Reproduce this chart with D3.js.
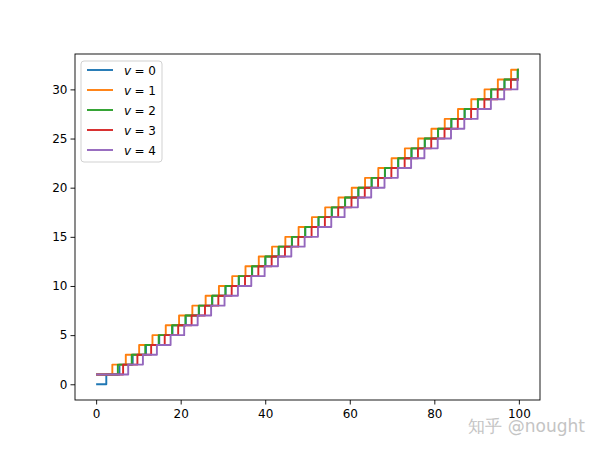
<!DOCTYPE html>
<meta charset="utf-8">
<script src="https://d3js.org/d3.v7.min.js"></script>
<style>
    body { margin: 0; background: #fff; }
    text { font-family: "DejaVu Sans", sans-serif; }
</style>
<body>
<div id="my_dataviz"></div>
<script>
    // series labels and starting count at x = 0
    var labels = ["0", "1", "2", "3", "4"];
    var startValues = [0, 1, 1, 1, 1];
    var colors = ["#1f77b4", "#ff7f0e", "#2ca02c", "#d62728", "#9467bd"];

    // x positions where each curve steps up by one
    var stepsV0 = [2.405, 5.520, 8.654, 11.792, 14.931, 18.071, 21.212, 24.352, 27.494, 30.635,
        33.776, 36.917, 40.058, 43.200, 46.341, 49.483, 52.624, 55.766, 58.907, 62.048,
        65.190, 68.332, 71.473, 74.615, 77.756, 80.898, 84.039, 87.181, 90.322, 93.464,
        96.605, 99.747];
    var stepsV1 = [3.832, 7.016, 10.174, 13.324, 16.471, 19.616, 22.760, 25.904, 29.047, 32.190,
        35.332, 38.475, 41.617, 44.759, 47.901, 51.044, 54.186, 57.328, 60.470, 63.611,
        66.753, 69.895, 73.037, 76.179, 79.320, 82.462, 85.604, 88.746, 91.888, 95.029,
        98.171];
    var stepsV2 = [5.136, 8.417, 11.620, 14.796, 17.960, 21.117, 24.270, 27.421, 30.569, 33.717,
        36.863, 40.008, 43.154, 46.298, 49.442, 52.586, 55.729, 58.873, 62.016, 65.159,
        68.302, 71.445, 74.588, 77.730, 80.873, 84.015, 87.158, 90.300, 93.442, 96.585,
        99.727];
    var stepsV3 = [6.380, 9.761, 13.015, 16.223, 19.409, 22.583, 25.748, 28.908, 32.065, 35.219,
        38.371, 41.521, 44.670, 47.818, 50.965, 54.112, 57.258, 60.403, 63.549, 66.693,
        69.838, 72.982, 76.126, 79.270, 82.413, 85.557, 88.700, 91.843, 94.986, 98.129];
    var stepsV4 = [7.588, 11.065, 14.373, 17.616, 20.827, 24.019, 27.199, 30.371, 33.537, 36.699,
        39.858, 43.014, 46.168, 49.321, 52.472, 55.622, 58.771, 61.920, 65.068, 68.215,
        71.362, 74.509, 77.655, 80.801, 83.946, 87.091, 90.236, 93.381, 96.526, 99.667];
    var allSteps = [stepsV0, stepsV1, stepsV2, stepsV3, stepsV4];

    var xRange = [0, 100];
    var xTicks = [0, 20, 40, 60, 80, 100];
    var yTicks = [0, 5, 10, 15, 20, 25, 30];

    var margin = {top: 54, right: 60, bottom: 50, left: 75},
        width = 600 - margin.left - margin.right,
        height = 450 - margin.top - margin.bottom;

    var svg = d3.select("#my_dataviz")
        .append("svg")
        .attr("width", 600)
        .attr("height", 450);

    var g = svg.append("g")
        .attr("transform", "translate(" + margin.left + "," + margin.top + ")");

    // build step points: start value, then one more at each step position
    var series = allSteps.map(function(steps, i) {
        var pts = [{x: xRange[0], y: startValues[i]}];
        steps.forEach(function(s, k) {
            pts.push({x: s, y: startValues[i] + k + 1});
        });
        pts.push({x: xRange[1], y: startValues[i] + steps.length});
        return {label: labels[i], color: colors[i], values: pts};
    });

    var yMax = d3.max(series, function(s) { return s.values[s.values.length - 1].y; });
    var yMin = 0;
    var xPad = (xRange[1] - xRange[0]) * 0.05,
        yPad = (yMax - yMin) * 0.05;

    var x = d3.scaleLinear()
        .domain([xRange[0] - xPad, xRange[1] + xPad])
        .range([0, width]);
    var y = d3.scaleLinear()
        .domain([yMin - yPad, yMax + yPad])
        .range([height, 0]);

    // lines
    var line = d3.line()
        .curve(d3.curveStepAfter)
        .x(function(d) { return x(d.x); })
        .y(function(d) { return y(d.y); });

    g.selectAll(".series")
        .data(series)
        .enter().append("path")
        .attr("fill", "none")
        .attr("stroke", function(d) { return d.color; })
        .attr("stroke-width", 1.9)
        .attr("stroke-linejoin", "round")
        .attr("d", function(d) { return line(d.values); });

    // axes
    var xAxis = g.append("g")
        .attr("transform", "translate(0," + height + ")")
        .call(d3.axisBottom(x).tickValues(xTicks).tickSize(4.5).tickPadding(4.5));
    var yAxis = g.append("g")
        .call(d3.axisLeft(y).tickValues(yTicks).tickSize(4.5).tickPadding(3));
    [xAxis, yAxis].forEach(function(a) {
        a.select(".domain").remove();
        a.selectAll("line").attr("stroke", "#000").attr("stroke-width", 0.9);
        a.selectAll("text")
            .attr("font-family", "DejaVu Sans")
            .attr("font-size", 12)
            .attr("fill", "#000");
    });

    // frame
    g.append("rect")
        .attr("width", width)
        .attr("height", height)
        .attr("fill", "none")
        .attr("stroke", "#000")
        .attr("stroke-width", 0.9);

    // legend
    var legend = g.append("g").attr("transform", "translate(6,7)");
    legend.append("rect")
        .attr("width", 81)
        .attr("height", 101)
        .attr("rx", 3)
        .attr("fill", "#fff")
        .attr("fill-opacity", 0.8)
        .attr("stroke", "#cccccc")
        .attr("stroke-width", 0.9);

    var items = legend.selectAll(".item")
        .data(series)
        .enter().append("g")
        .attr("transform", function(d, i) { return "translate(0," + (9 + i * 20) + ")"; });
    items.append("line")
        .attr("x1", 6).attr("x2", 32)
        .attr("stroke", function(d) { return d.color; })
        .attr("stroke-width", 1.9);
    var lbl = items.append("text")
        .attr("x", 43)
        .attr("y", 4.5)
        .attr("font-size", 12)
        .attr("fill", "#000");
    lbl.append("tspan").attr("font-style", "italic").text("v");
    lbl.append("tspan").attr("dx", 3.5).text("=");
    lbl.append("tspan").attr("dx", 3.5).text(function(d) { return d.label; });

    // watermark
    svg.append("text")
        .attr("x", 585)
        .attr("y", 432)
        .attr("text-anchor", "end")
        .attr("font-family", "Noto Sans CJK SC")
        .attr("font-size", 17)
        .attr("fill", "#c4c4c4")
        .text("知乎 @nought");
</script>
</body>
